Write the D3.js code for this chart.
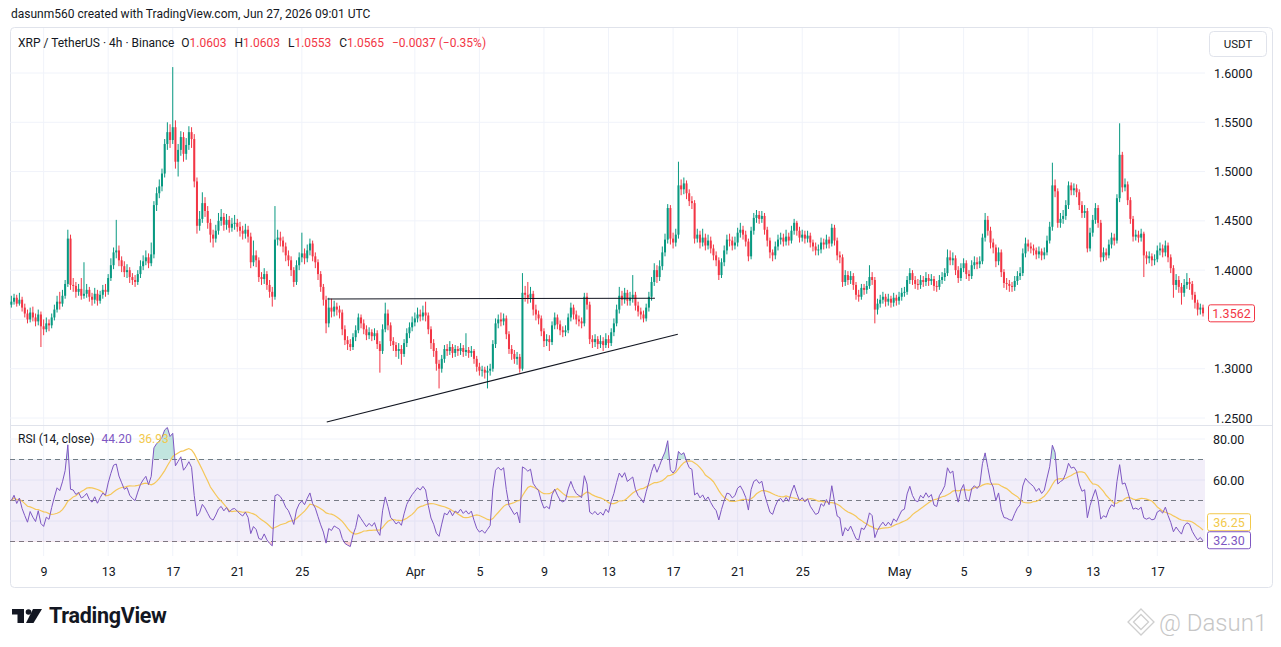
<!DOCTYPE html>
<html>
<head>
<meta charset="utf-8">
<script src="https://cdn.jsdelivr.net/npm/d3@7"></script>
<style>
  body { margin: 0; background: #ffffff; }
  svg text { font-family: Roboto, "Noto Sans", "DejaVu Sans", sans-serif; }
</style>
</head>
<body>
<script>
// XRP / TetherUS 4h candles, Mar 7 00:00 UTC onward (one value per 4h bar)
var firstOpen = 1.365;

var closes = [
  1.368, 1.372, 1.366, 1.370, 1.362, 1.356, 1.350, 1.357, 1.352, 1.348, 1.355, 1.343,
  1.340, 1.346, 1.344, 1.352, 1.360, 1.368, 1.366, 1.374, 1.386, 1.432, 1.385, 1.384,
  1.378, 1.381, 1.374, 1.376, 1.380, 1.373, 1.370, 1.376, 1.369, 1.375, 1.380, 1.378,
  1.392, 1.405, 1.418, 1.420, 1.410, 1.404, 1.398, 1.400, 1.393, 1.390, 1.388, 1.396,
  1.404, 1.409, 1.413, 1.407, 1.416, 1.466, 1.478, 1.485, 1.498, 1.528, 1.540, 1.532,
  1.545, 1.510, 1.522, 1.535, 1.518, 1.527, 1.540, 1.533, 1.490, 1.445, 1.452, 1.468,
  1.460, 1.448, 1.436, 1.432, 1.440, 1.450, 1.454, 1.446, 1.451, 1.443, 1.447, 1.448,
  1.444, 1.440, 1.437, 1.441, 1.434, 1.408, 1.415, 1.410, 1.393, 1.391, 1.396, 1.385,
  1.378, 1.373, 1.431, 1.433, 1.430, 1.424, 1.415, 1.410, 1.400, 1.388, 1.405, 1.413,
  1.417, 1.412, 1.420, 1.427, 1.414, 1.408, 1.396, 1.383, 1.370, 1.346, 1.362, 1.358,
  1.363, 1.360, 1.357, 1.340, 1.329, 1.325, 1.322, 1.332, 1.339, 1.352, 1.346, 1.340,
  1.334, 1.337, 1.333, 1.336, 1.325, 1.318, 1.340, 1.356, 1.344, 1.328, 1.324, 1.318,
  1.320, 1.315, 1.326, 1.336, 1.342, 1.347, 1.351, 1.355, 1.353, 1.357, 1.354, 1.340,
  1.326, 1.318, 1.305, 1.300, 1.310, 1.320, 1.318, 1.322, 1.316, 1.320, 1.318, 1.321,
  1.317, 1.319, 1.316, 1.318, 1.310, 1.302, 1.298, 1.299, 1.296, 1.298, 1.300, 1.325,
  1.346, 1.350, 1.348, 1.351, 1.335, 1.320, 1.315, 1.310, 1.312, 1.300, 1.377, 1.375,
  1.372, 1.376, 1.360, 1.355, 1.351, 1.338, 1.328, 1.330, 1.327, 1.344, 1.352, 1.345,
  1.339, 1.337, 1.339, 1.352, 1.362, 1.355, 1.350, 1.348, 1.346, 1.373, 1.365, 1.330,
  1.327, 1.330, 1.325, 1.328, 1.324, 1.330, 1.326, 1.337, 1.346, 1.360, 1.374, 1.370,
  1.377, 1.369, 1.372, 1.375, 1.364, 1.358, 1.355, 1.351, 1.362, 1.373, 1.388, 1.400,
  1.393, 1.404, 1.418, 1.431, 1.463, 1.432, 1.428, 1.436, 1.486, 1.482, 1.488, 1.478,
  1.470, 1.468, 1.432, 1.436, 1.428, 1.433, 1.425, 1.430, 1.422, 1.415, 1.410, 1.395,
  1.408, 1.420, 1.431, 1.430, 1.425, 1.428, 1.438, 1.441, 1.436, 1.429, 1.414, 1.440,
  1.453, 1.456, 1.452, 1.455, 1.441, 1.430, 1.418, 1.415, 1.424, 1.431, 1.433, 1.429,
  1.434, 1.430, 1.440, 1.448, 1.440, 1.433, 1.436, 1.432, 1.435, 1.428, 1.424, 1.420,
  1.421, 1.428, 1.426, 1.431, 1.427, 1.443, 1.430, 1.415, 1.413, 1.388, 1.395, 1.390,
  1.394, 1.385, 1.375, 1.373, 1.382, 1.380, 1.384, 1.393, 1.390, 1.360, 1.366, 1.370,
  1.373, 1.368, 1.371, 1.367, 1.372, 1.369, 1.373, 1.377, 1.378, 1.390, 1.397, 1.390,
  1.386, 1.385, 1.390, 1.388, 1.392, 1.389, 1.391, 1.384, 1.383, 1.390, 1.393, 1.397,
  1.413, 1.410, 1.412, 1.400, 1.392, 1.402, 1.407, 1.396, 1.394, 1.405, 1.408, 1.406,
  1.409, 1.433, 1.451, 1.440, 1.428, 1.423, 1.409, 1.418, 1.398, 1.387, 1.386, 1.384,
  1.383, 1.389, 1.394, 1.397, 1.417, 1.427, 1.424, 1.422, 1.420, 1.416, 1.419, 1.415,
  1.418, 1.430, 1.444, 1.486, 1.480, 1.448, 1.452, 1.455, 1.466, 1.486, 1.481, 1.483,
  1.479, 1.466, 1.458, 1.460, 1.422, 1.438, 1.451, 1.463, 1.448, 1.413, 1.418, 1.415,
  1.426, 1.433, 1.430, 1.473, 1.517, 1.484, 1.487, 1.471, 1.452, 1.434, 1.436, 1.433,
  1.437, 1.415, 1.412, 1.414, 1.410, 1.411, 1.420, 1.422, 1.418, 1.425, 1.413, 1.402,
  1.385, 1.390, 1.383, 1.377, 1.385, 1.388, 1.386, 1.375, 1.367, 1.360, 1.362, 1.3562
];

var highs = [
  1.374, 1.376, 1.375, 1.377, 1.373, 1.366, 1.360, 1.362, 1.363, 1.356, 1.360, 1.358,
  1.350, 1.352, 1.350, 1.356, 1.365, 1.374, 1.378, 1.380, 1.390, 1.441, 1.436, 1.392,
  1.388, 1.386, 1.392, 1.408, 1.386, 1.383, 1.377, 1.382, 1.380, 1.379, 1.385, 1.386,
  1.396, 1.412, 1.423, 1.451, 1.425, 1.414, 1.409, 1.406, 1.403, 1.397, 1.395, 1.400,
  1.410, 1.415, 1.420, 1.417, 1.428, 1.470, 1.484, 1.492, 1.503, 1.533, 1.550, 1.548,
  1.606, 1.552, 1.528, 1.541, 1.540, 1.534, 1.546, 1.545, 1.538, 1.494, 1.460, 1.479,
  1.474, 1.465, 1.452, 1.441, 1.446, 1.458, 1.462, 1.458, 1.457, 1.455, 1.453, 1.456,
  1.452, 1.449, 1.445, 1.447, 1.445, 1.438, 1.430, 1.420, 1.413, 1.398, 1.402, 1.399,
  1.390, 1.383, 1.465, 1.441, 1.439, 1.434, 1.428, 1.420, 1.414, 1.403, 1.410, 1.418,
  1.438, 1.422, 1.426, 1.432, 1.430, 1.418, 1.411, 1.399, 1.386, 1.374, 1.372, 1.371,
  1.369, 1.367, 1.364, 1.360, 1.344, 1.333, 1.330, 1.336, 1.344, 1.356, 1.355, 1.350,
  1.344, 1.342, 1.340, 1.341, 1.339, 1.328, 1.345, 1.367, 1.360, 1.347, 1.332, 1.327,
  1.326, 1.324, 1.330, 1.341, 1.347, 1.353, 1.357, 1.362, 1.360, 1.364, 1.368, 1.357,
  1.343, 1.330, 1.321, 1.309, 1.314, 1.324, 1.325, 1.328, 1.325, 1.324, 1.323, 1.326,
  1.324, 1.336, 1.322, 1.323, 1.320, 1.313, 1.306, 1.303, 1.302, 1.303, 1.305, 1.329,
  1.351, 1.355, 1.357, 1.356, 1.354, 1.338, 1.324, 1.319, 1.317, 1.315, 1.397, 1.384,
  1.388, 1.383, 1.379, 1.365, 1.359, 1.354, 1.341, 1.335, 1.334, 1.348, 1.357, 1.355,
  1.349, 1.343, 1.344, 1.356, 1.367, 1.365, 1.359, 1.354, 1.352, 1.377, 1.377, 1.368,
  1.334, 1.335, 1.333, 1.334, 1.332, 1.336, 1.334, 1.341, 1.351, 1.365, 1.383, 1.379,
  1.382, 1.380, 1.378, 1.395, 1.378, 1.368, 1.362, 1.359, 1.366, 1.378, 1.393, 1.407,
  1.405, 1.410, 1.424, 1.437, 1.467, 1.466, 1.438, 1.442, 1.510, 1.492, 1.494, 1.491,
  1.482, 1.475, 1.471, 1.442, 1.440, 1.442, 1.437, 1.436, 1.434, 1.426, 1.419, 1.413,
  1.412, 1.425, 1.436, 1.437, 1.434, 1.434, 1.443, 1.448, 1.445, 1.440, 1.432, 1.444,
  1.458, 1.461, 1.460, 1.460, 1.458, 1.444, 1.433, 1.421, 1.429, 1.436, 1.438, 1.437,
  1.441, 1.438, 1.445, 1.452, 1.450, 1.444, 1.441, 1.440, 1.440, 1.438, 1.431, 1.428,
  1.426, 1.433, 1.432, 1.436, 1.434, 1.447, 1.446, 1.433, 1.419, 1.416, 1.400, 1.399,
  1.399, 1.397, 1.388, 1.380, 1.386, 1.386, 1.389, 1.405, 1.398, 1.393, 1.371, 1.375,
  1.378, 1.376, 1.376, 1.374, 1.377, 1.375, 1.378, 1.382, 1.383, 1.394, 1.402, 1.400,
  1.394, 1.391, 1.395, 1.394, 1.398, 1.396, 1.396, 1.394, 1.389, 1.395, 1.398, 1.402,
  1.421, 1.420, 1.418, 1.415, 1.404, 1.407, 1.412, 1.410, 1.400, 1.410, 1.414, 1.413,
  1.414, 1.437, 1.458, 1.455, 1.444, 1.432, 1.426, 1.423, 1.421, 1.401, 1.392, 1.390,
  1.388, 1.394, 1.399, 1.403, 1.422, 1.433, 1.431, 1.428, 1.426, 1.423, 1.424, 1.422,
  1.423, 1.435, 1.449, 1.509, 1.492, 1.483, 1.458, 1.461, 1.471, 1.490, 1.489, 1.488,
  1.487, 1.482, 1.470, 1.466, 1.463, 1.443, 1.456, 1.468, 1.466, 1.451, 1.423, 1.422,
  1.431, 1.438, 1.437, 1.477, 1.549, 1.520, 1.493, 1.490, 1.474, 1.455, 1.441, 1.440,
  1.442, 1.439, 1.419, 1.419, 1.417, 1.416, 1.425, 1.428, 1.426, 1.430, 1.428, 1.416,
  1.405, 1.396, 1.394, 1.387, 1.391, 1.397, 1.392, 1.389, 1.378, 1.370, 1.366, 1.365
];

var lows = [
  1.362, 1.365, 1.363, 1.364, 1.358, 1.352, 1.346, 1.347, 1.348, 1.343, 1.344, 1.322,
  1.334, 1.337, 1.338, 1.341, 1.349, 1.357, 1.360, 1.363, 1.371, 1.383, 1.380, 1.378,
  1.372, 1.374, 1.370, 1.371, 1.372, 1.368, 1.364, 1.366, 1.364, 1.366, 1.371, 1.373,
  1.375, 1.389, 1.401, 1.412, 1.404, 1.398, 1.393, 1.392, 1.387, 1.385, 1.383, 1.385,
  1.392, 1.400, 1.405, 1.402, 1.404, 1.412, 1.460, 1.473, 1.480, 1.494, 1.522, 1.524,
  1.528, 1.503, 1.495, 1.516, 1.510, 1.512, 1.522, 1.524, 1.484, 1.437, 1.440, 1.448,
  1.454, 1.442, 1.428, 1.423, 1.428, 1.436, 1.445, 1.440, 1.441, 1.438, 1.439, 1.441,
  1.439, 1.434, 1.431, 1.432, 1.428, 1.402, 1.404, 1.403, 1.388, 1.385, 1.386, 1.380,
  1.372, 1.363, 1.370, 1.425, 1.424, 1.418, 1.409, 1.404, 1.394, 1.383, 1.385, 1.400,
  1.408, 1.406, 1.408, 1.415, 1.409, 1.402, 1.390, 1.378, 1.364, 1.336, 1.342, 1.352,
  1.353, 1.354, 1.351, 1.334, 1.324, 1.319, 1.318, 1.319, 1.328, 1.336, 1.341, 1.335,
  1.329, 1.330, 1.328, 1.329, 1.320, 1.296, 1.315, 1.337, 1.339, 1.323, 1.318, 1.312,
  1.310, 1.304, 1.312, 1.322, 1.331, 1.338, 1.343, 1.347, 1.348, 1.349, 1.348, 1.335,
  1.320, 1.312, 1.298, 1.280, 1.296, 1.306, 1.313, 1.314, 1.311, 1.312, 1.313, 1.314,
  1.312, 1.313, 1.311, 1.312, 1.305, 1.297, 1.293, 1.292, 1.290, 1.280, 1.293, 1.297,
  1.321, 1.341, 1.343, 1.344, 1.330, 1.315, 1.309, 1.305, 1.304, 1.296, 1.298, 1.368,
  1.366, 1.367, 1.354, 1.349, 1.345, 1.333, 1.322, 1.323, 1.318, 1.324, 1.340, 1.340,
  1.334, 1.332, 1.333, 1.336, 1.348, 1.350, 1.345, 1.343, 1.341, 1.343, 1.360, 1.325,
  1.321, 1.322, 1.320, 1.321, 1.318, 1.321, 1.321, 1.323, 1.333, 1.343, 1.356, 1.364,
  1.366, 1.364, 1.364, 1.367, 1.359, 1.353, 1.350, 1.347, 1.348, 1.358, 1.369, 1.384,
  1.387, 1.389, 1.400, 1.414, 1.427, 1.426, 1.422, 1.424, 1.432, 1.476, 1.477, 1.472,
  1.465, 1.462, 1.427, 1.428, 1.422, 1.424, 1.420, 1.421, 1.417, 1.410, 1.404, 1.390,
  1.392, 1.404, 1.416, 1.424, 1.420, 1.421, 1.424, 1.433, 1.431, 1.424, 1.409, 1.411,
  1.436, 1.448, 1.447, 1.448, 1.436, 1.424, 1.412, 1.409, 1.411, 1.420, 1.426, 1.424,
  1.425, 1.425, 1.427, 1.436, 1.435, 1.428, 1.429, 1.427, 1.428, 1.423, 1.419, 1.415,
  1.415, 1.417, 1.421, 1.422, 1.422, 1.424, 1.425, 1.410, 1.407, 1.383, 1.384, 1.385,
  1.386, 1.380, 1.370, 1.368, 1.370, 1.375, 1.376, 1.381, 1.385, 1.346, 1.355, 1.362,
  1.366, 1.363, 1.364, 1.362, 1.363, 1.364, 1.365, 1.369, 1.373, 1.375, 1.386, 1.385,
  1.381, 1.380, 1.381, 1.383, 1.384, 1.384, 1.385, 1.379, 1.378, 1.380, 1.386, 1.389,
  1.394, 1.405, 1.405, 1.395, 1.387, 1.389, 1.398, 1.391, 1.389, 1.391, 1.401, 1.401,
  1.402, 1.406, 1.429, 1.435, 1.422, 1.417, 1.403, 1.405, 1.393, 1.382, 1.380, 1.378,
  1.378, 1.379, 1.385, 1.390, 1.394, 1.413, 1.419, 1.417, 1.415, 1.411, 1.412, 1.410,
  1.411, 1.415, 1.427, 1.440, 1.474, 1.443, 1.443, 1.447, 1.451, 1.462, 1.476, 1.476,
  1.474, 1.461, 1.453, 1.453, 1.418, 1.419, 1.434, 1.447, 1.443, 1.408, 1.409, 1.410,
  1.412, 1.422, 1.425, 1.427, 1.469, 1.479, 1.480, 1.466, 1.447, 1.429, 1.430, 1.428,
  1.429, 1.393, 1.406, 1.407, 1.404, 1.405, 1.408, 1.415, 1.413, 1.414, 1.408, 1.397,
  1.372, 1.380, 1.377, 1.365, 1.373, 1.381, 1.380, 1.370, 1.361, 1.354, 1.355, 1.353
];

// time axis ticks
var tickDates = ["2026-03-09", "2026-03-13", "2026-03-17", "2026-03-21", "2026-03-25",
  "2026-04-01", "2026-04-05", "2026-04-09", "2026-04-13", "2026-04-17", "2026-04-21",
  "2026-04-25", "2026-05-01", "2026-05-05", "2026-05-09", "2026-05-13", "2026-05-17"];
var tickLabels = ["9", "13", "17", "21", "25", "Apr", "5", "9", "13", "17", "21",
  "25", "May", "5", "9", "13", "17"];

var priceTicks = [1.25, 1.30, 1.35, 1.40, 1.45, 1.50, 1.55, 1.60];
var rsiLabelTicks = [80, 60];
var rsiGridTicks = [80, 60, 40];
var rsiBands = [70, 50, 30];

// drawn trend lines (time, price)
var resistanceLine = [["2026-03-26T14:00:00Z", 1.3708], ["2026-04-15T21:00:00Z", 1.3715]];
var supportLine = [["2026-03-26T13:00:00Z", 1.2460], ["2026-04-17T07:00:00Z", 1.3350]];

// legend / last value labels as shown on the chart
var headerTitle = "XRP / TetherUS \u00b7 4h \u00b7 Binance";
var headerFields = [["O", "1.0603"], ["H", "1.0603"], ["L", "1.0553"], ["C", "1.0565"]];
var headerChange = "\u22120.0037 (\u22120.35%)";
var rsiLegend = ["44.20", "36.93"];
var lastRsi = 32.30;
var lastRsiMa = 36.25;

// ---------------------------------------------------------------
var svgWidth = 1281;
var svgHeight = 647;
var plotLeft = 10;
var plotRight = 1205;
var candleStep = 2.69;
var priceTop = 28, priceBottom = 425;
var rsiTop = 425, rsiBottom = 556;

var upColor = "#089981";
var downColor = "#f23645";
var rsiColor = "#7e57c2";
var maColor = "#f5c75a";
var gridColor = "#f0f3fa";
var textColor = "#131722";

var svg = d3.select("body")
  .append("svg")
  .attr("width", svgWidth)
  .attr("height", svgHeight);

var hour = 3600 * 1000;
var t0 = Date.UTC(2026, 2, 7, 0, 0);

var candles = closes.map(function(c, i) {
  var o = i === 0 ? firstOpen : closes[i - 1];
  return {
    t: new Date(t0 + i * 4 * hour),
    o: o,
    c: c,
    h: Math.max(highs[i], o, c),
    l: Math.min(lows[i], o, c)
  };
});

var xScale = d3.scaleUtc()
  .domain([new Date(t0 - 2 * hour), new Date(t0 + (closes.length - 0.5) * 4 * hour)])
  .range([plotLeft, plotLeft + closes.length * candleStep]);

var yScale = d3.scaleLinear()
  .domain([1.25, 1.60])
  .range([418, 73]);

var rsiScale = d3.scaleLinear()
  .domain([30, 80])
  .range([541.5, 439]);

// RSI(14) with Wilder smoothing; averages seeded neutral from the first 14 moves
function computeRsi(values, n) {
  var firstMoves = values.slice(0, n + 1).map(function(v, i, a) { return i ? Math.abs(v - a[i - 1]) : 0; });
  var seed = d3.sum(firstMoves) / n / 2;
  var avgGain = seed, avgLoss = seed;
  var out = [50];
  for (var i = 1; i < values.length; i++) {
    var ch = values[i] - values[i - 1];
    avgGain += (Math.max(ch, 0) - avgGain) / n;
    avgLoss += (Math.max(-ch, 0) - avgLoss) / n;
    out.push(avgLoss === 0 ? 100 : 100 - 100 / (1 + avgGain / avgLoss));
  }
  return out;
}
function sma(values, n) {
  return values.map(function(v, i) {
    return d3.mean(values.slice(Math.max(0, i - n + 1), i + 1));
  });
}
var rsiValues = computeRsi(closes, 14);
var rsiMa = sma(rsiValues, 14);
candles.forEach(function(d, i) { d.rsi = rsiValues[i]; d.ma = rsiMa[i]; });

// clip paths
var defs = svg.append("defs");
defs.append("clipPath").attr("id", "clipPrice").append("rect")
  .attr("x", plotLeft).attr("y", priceTop).attr("width", plotRight - plotLeft).attr("height", priceBottom - priceTop);
defs.append("clipPath").attr("id", "clipRsi").append("rect")
  .attr("x", plotLeft).attr("y", rsiTop).attr("width", plotRight - plotLeft).attr("height", rsiBottom - rsiTop);
defs.append("clipPath").attr("id", "clipOver").append("rect")
  .attr("x", plotLeft).attr("y", rsiTop).attr("width", plotRight - plotLeft).attr("height", rsiScale(70) - rsiTop);
defs.append("clipPath").attr("id", "clipUnder").append("rect")
  .attr("x", plotLeft).attr("y", rsiScale(30)).attr("width", plotRight - plotLeft).attr("height", rsiBottom - rsiScale(30));

// header credit
svg.append("text")
  .attr("x", 11).attr("y", 18)
  .style("font-size", "12px").style("fill", textColor)
  .text("dasunm560 created with TradingView.com, Jun 27, 2026 09:01 UTC");

// chart frame
svg.append("rect")
  .attr("x", 10.5).attr("y", 27.5).attr("width", 1262).attr("height", 560)
  .attr("rx", 4)
  .style("fill", "none").style("stroke", "#e0e3eb");

// grid
var tickTimes = tickDates.map(function(d) { return new Date(d + "T00:00:00Z"); });
var grid = svg.append("g");
grid.selectAll(".vgrid")
  .data(tickTimes)
  .enter().append("line")
  .attr("x1", d => xScale(d)).attr("x2", d => xScale(d))
  .attr("y1", priceTop).attr("y2", rsiBottom)
  .style("stroke", gridColor);
grid.selectAll(".hgrid")
  .data(priceTicks)
  .enter().append("line")
  .attr("x1", plotLeft).attr("x2", plotRight)
  .attr("y1", d => yScale(d)).attr("y2", d => yScale(d))
  .style("stroke", gridColor);
grid.selectAll(".rgrid")
  .data(rsiGridTicks)
  .enter().append("line")
  .attr("x1", plotLeft).attr("x2", plotRight)
  .attr("y1", d => rsiScale(d)).attr("y2", d => rsiScale(d))
  .style("stroke", gridColor);

// pane separator
svg.append("line")
  .attr("x1", plotLeft).attr("x2", 1272)
  .attr("y1", priceBottom + 0.5).attr("y2", priceBottom + 0.5)
  .style("stroke", "#e0e3eb");

// candles
var candleGroup = svg.append("g").attr("clip-path", "url(#clipPrice)");
var bodyW = candleStep * 0.75;
candleGroup.selectAll(".wick")
  .data(candles)
  .enter().append("line")
  .attr("x1", d => xScale(d.t)).attr("x2", d => xScale(d.t))
  .attr("y1", d => yScale(d.h)).attr("y2", d => yScale(d.l))
  .style("stroke", d => d.c >= d.o ? upColor : downColor)
  .style("stroke-width", 1);
candleGroup.selectAll(".body")
  .data(candles)
  .enter().append("rect")
  .attr("x", d => xScale(d.t) - bodyW / 2)
  .attr("width", bodyW)
  .attr("y", d => yScale(Math.max(d.o, d.c)))
  .attr("height", d => Math.max(1, Math.abs(yScale(d.o) - yScale(d.c))))
  .style("fill", d => d.c >= d.o ? upColor : downColor);

// trend lines
[resistanceLine, supportLine].forEach(function(seg) {
  candleGroup.append("line")
    .attr("x1", xScale(new Date(seg[0][0]))).attr("y1", yScale(seg[0][1]))
    .attr("x2", xScale(new Date(seg[1][0]))).attr("y2", yScale(seg[1][1]))
    .style("stroke", textColor).style("stroke-width", 1.1);
});

// legend row
var legend = svg.append("text").attr("x", 18).attr("y", 47).style("font-size", "12px");
legend.append("tspan").style("fill", textColor).text(headerTitle);
headerFields.forEach(function(f, i) {
  legend.append("tspan").attr("dx", i === 0 ? 7 : 8).style("fill", textColor).text(f[0]);
  legend.append("tspan").style("fill", downColor).text(f[1]);
});
legend.append("tspan").attr("dx", 8).style("fill", downColor).text(headerChange);

// price axis (labels hidden where the last-price tag covers them)
var lastClose = closes[closes.length - 1];
var priceAxis = svg.append("g")
  .attr("transform", "translate(1214, 0)")
  .call(d3.axisRight(yScale).tickValues(priceTicks)
    .tickFormat(d => Math.abs(yScale(d) - yScale(lastClose)) < 14 ? "" : d3.format(".4f")(d))
    .tickSize(0).tickPadding(0));
priceAxis.select(".domain").remove();
priceAxis.selectAll("text")
  .style("font-size", "12.5px").style("fill", textColor);

// USDT box
svg.append("rect")
  .attr("x", 1209.5).attr("y", 31.5).attr("width", 57).attr("height", 25).attr("rx", 4)
  .style("fill", "#fff").style("stroke", "#e0e3eb");
svg.append("text")
  .attr("x", 1238).attr("y", 48).attr("text-anchor", "middle")
  .style("font-size", "11.5px").style("fill", textColor)
  .text("USDT");

// last price label
svg.append("rect")
  .attr("x", 1208.5).attr("y", yScale(lastClose) - 8.5).attr("width", 46).attr("height", 17).attr("rx", 2)
  .style("fill", "#fff").style("stroke", downColor);
svg.append("text")
  .attr("x", 1231.5).attr("y", yScale(lastClose)).attr("dy", "0.35em").attr("text-anchor", "middle")
  .style("font-size", "12.5px").style("fill", downColor)
  .text(lastClose.toFixed(4));

// RSI pane
var rsiGroup = svg.append("g");
rsiGroup.append("rect")
  .attr("x", plotLeft).attr("width", plotRight - plotLeft)
  .attr("y", rsiScale(70)).attr("height", rsiScale(30) - rsiScale(70))
  .style("fill", "rgba(126, 87, 194, 0.1)");
rsiGroup.selectAll(".band")
  .data(rsiBands)
  .enter().append("line")
  .attr("x1", plotLeft).attr("x2", plotRight)
  .attr("y1", d => rsiScale(d)).attr("y2", d => rsiScale(d))
  .style("stroke", "#787b86").style("stroke-dasharray", "5,4").style("stroke-width", 1);

var overArea = d3.area().x(d => xScale(d.t)).y0(rsiScale(70)).y1(d => rsiScale(d.rsi));
var underArea = d3.area().x(d => xScale(d.t)).y0(rsiScale(30)).y1(d => rsiScale(d.rsi));
rsiGroup.append("path").datum(candles).attr("d", overArea)
  .attr("clip-path", "url(#clipOver)").style("fill", "rgba(8, 153, 129, 0.25)");
rsiGroup.append("path").datum(candles).attr("d", underArea)
  .attr("clip-path", "url(#clipUnder)").style("fill", "rgba(242, 54, 69, 0.25)");

var maLine = d3.line().x(d => xScale(d.t)).y(d => rsiScale(d.ma));
var rsiLine = d3.line().x(d => xScale(d.t)).y(d => rsiScale(d.rsi));
rsiGroup.append("path").datum(candles).attr("d", maLine)
  .attr("clip-path", "url(#clipRsi)")
  .style("fill", "none").style("stroke", maColor).style("stroke-width", 1.2);
rsiGroup.append("path").datum(candles).attr("d", rsiLine)
  .attr("clip-path", "url(#clipRsi)")
  .style("fill", "none").style("stroke", rsiColor).style("stroke-width", 1);

// RSI legend
var rsiLeg = svg.append("text").attr("x", 18).attr("y", 443).style("font-size", "12px");
rsiLeg.append("tspan").style("fill", textColor).text("RSI (14, close)");
rsiLeg.append("tspan").attr("dx", 7).style("fill", rsiColor).text(rsiLegend[0]);
rsiLeg.append("tspan").attr("dx", 7).style("fill", "#f2c94c").text(rsiLegend[1]);

// RSI axis
var rsiAxis = svg.append("g")
  .attr("transform", "translate(1213, 0)")
  .call(d3.axisRight(rsiScale).tickValues(rsiLabelTicks).tickFormat(d3.format(".2f")).tickSize(0).tickPadding(0));
rsiAxis.select(".domain").remove();
rsiAxis.selectAll("text").style("font-size", "12.5px").style("fill", textColor);

// RSI last value labels, pushed apart if they overlap
var yMa = rsiScale(lastRsiMa), yRsi = rsiScale(lastRsi);
if (Math.abs(yRsi - yMa) < 18) {
  var mid = (yRsi + yMa) / 2;
  yMa = mid - 10.5;
  yRsi = mid + 7.5;
}
[[lastRsiMa, yMa, "#f2c94c"], [lastRsi, yRsi, rsiColor]].forEach(function(lbl) {
  svg.append("rect")
    .attr("x", 1207.5).attr("y", lbl[1] - 8.5).attr("width", 43).attr("height", 17).attr("rx", 2)
    .style("fill", "#fff").style("stroke", lbl[2]);
  svg.append("text")
    .attr("x", 1229).attr("y", lbl[1]).attr("dy", "0.35em").attr("text-anchor", "middle")
    .style("font-size", "12.5px").style("fill", lbl[2])
    .text(lbl[0].toFixed(2));
});

// time axis
var timeAxis = svg.append("g")
  .attr("transform", "translate(0, 572)")
  .call(d3.axisBottom(xScale).tickValues(tickTimes).tickFormat((d, i) => tickLabels[i]).tickSize(0).tickPadding(0));
timeAxis.select(".domain").remove();
timeAxis.selectAll("text")
  .attr("y", 0).attr("dy", "0.35em")
  .style("font-size", "12.5px").style("fill", textColor);

// TradingView logo
var logo = svg.append("g").style("fill", textColor);
logo.append("path").attr("d", "M12,609 H24 V623 H17.5 V614.5 H12 Z");
logo.append("circle").attr("cx", 28.5).attr("cy", 612).attr("r", 2.8);
logo.append("path").attr("d", "M33,609 H42 L33.5,623 H26 Z");
svg.append("text")
  .attr("x", 49).attr("y", 623)
  .style("font-size", "21.5px").style("font-weight", "bold").style("fill", textColor)
  .style("letter-spacing", "-0.3px")
  .text("TradingView");

// watermark
var wm = svg.append("g").style("stroke", "#cfcfcf").style("fill", "none").style("stroke-width", 1.3);
wm.append("path").attr("d", "M1141,609 L1154,622 L1141,635 L1128,622 Z");
wm.append("path").attr("d", "M1141,614.5 L1148.5,622 L1141,629.5 L1133.5,622 Z");
svg.append("text")
  .attr("x", 1159).attr("y", 631)
  .style("font-size", "24px").style("font-weight", "300").style("fill", "#c6c6c6")
  .text("@ Dasun1");
</script>
</body>
</html>
